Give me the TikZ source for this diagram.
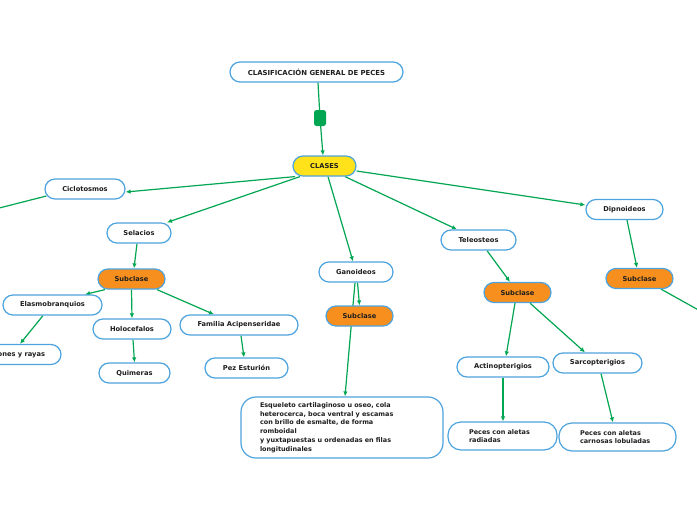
\documentclass[tikz,border=0pt]{standalone}
\usepackage{fontspec}
\setmainfont{DejaVu Sans}
\usetikzlibrary{arrows.meta,backgrounds}
\definecolor{verde}{RGB}{0,166,81}
\definecolor{azul}{RGB}{77,163,222}
\definecolor{naranja}{RGB}{247,143,30}
\definecolor{amarillo}{RGB}{255,226,26}
\definecolor{texto}{RGB}{30,30,30}
\begin{document}
\begin{tikzpicture}[x=1pt,y=-1pt,
	caja/.style={draw=azul,line width=1.2pt,fill=white,rounded corners=10pt,minimum height=20pt,
		inner sep=0pt,text=texto,font=\bfseries\fontsize{6.7}{8}\selectfont},
	subcl/.style={caja,fill=naranja},
	hoja/.style={caja,minimum height=28pt,rounded corners=13pt,align=left,inner xsep=21pt,
		font=\bfseries\fontsize{6.5}{8}\selectfont},
	linea/.style={draw=verde,line width=1.2pt},
	flecha/.style={linea,-{Latex[length=5pt,width=4.5pt]}}]
	\useasboundingbox (0,0) rectangle (697,520);
	\clip (0,0) rectangle (697,520);
	%Nodos del mapa
	\node[caja,minimum width=173pt,font=\bfseries\fontsize{6.9}{8}\selectfont] (tit) at (316.5,72) {CLASIFICACIÓN GENERAL DE PECES};
	\node[fill=verde,rounded corners=2.5pt,minimum width=12pt,minimum height=16pt,inner sep=0pt] (cuad) at (320,118) {};
	\node[caja,fill=amarillo,minimum width=63pt] (cla) at (324.5,166) {CLASES};
	\node[caja,minimum width=80pt] (cic) at (85,189) {Ciclotosmos};
	\node[caja,minimum width=64pt] (sel) at (139,233) {Selacios};
	\node[subcl,minimum width=67pt] (subs) at (131.5,279) {Subclase};
	\node[caja,minimum width=99pt] (ela) at (52.5,305) {Elasmobranquios};
	\node[caja,minimum width=78pt] (hol) at (132,329) {Holocefalos};
	\node[caja,minimum width=118pt] (fam) at (239,325) {Familia Acipenseridae};
	\node[caja,minimum width=99pt] (tib) at (11.5,354.5) {Tiburones y rayas};
	\node[caja,minimum width=71pt] (qui) at (134.5,373) {Quimeras};
	\node[caja,minimum width=83pt] (pez) at (246.5,368) {Pez Esturión};
	\node[caja,minimum width=74pt] (gan) at (356,272) {Ganoideos};
	\node[subcl,minimum width=67pt] (subg) at (359.5,316) {Subclase};
	\node[hoja,minimum height=61pt,rounded corners=15pt,inner xsep=19pt,text width=164pt,
		font=\bfseries\fontsize{6.45}{8.7}\selectfont] (desc) at (342,427.5)
		{Esqueleto cartilaginoso u oseo, cola\\heterocerca, boca ventral y escamas\\con brillo de esmalte, de forma\\romboidal\\y yuxtapuestas u ordenadas en filas\\longitudinales};
	\node[caja,minimum width=75pt] (tel) at (478.5,240) {Teleosteos};
	\node[subcl,minimum width=67pt] (subt) at (517.5,292.5) {Subclase};
	\node[caja,minimum width=92pt] (act) at (503,367) {Actinopterigios};
	\node[caja,minimum width=89pt] (sar) at (597.5,363) {Sarcopterigios};
	\node[hoja,text width=67pt] (rad) at (502.5,436) {Peces con aletas\\radiadas};
	\node[hoja,text width=75pt] (car) at (617.5,437) {Peces con aletas\\carnosas lobuladas};
	\node[caja,minimum width=77pt] (dip) at (624.5,209.5) {Dipnoideos};
	\node[subcl,minimum width=67pt] (subd) at (639.5,278.5) {Subclase};
	\coordinate (fueraIzq) at (-40,218);
	\coordinate (fueraDer) at (720,322);
	%Conexiones
	\begin{scope}[on background layer]
		\clip (0,0) rectangle (697,520);
		\fill[white] (0,0) rectangle (697,520);
		\draw[linea] ([xshift=1.5pt]tit.south) -- (cuad);
		\draw[flecha] (cuad) -- ([xshift=-1.5pt]cla.north);
		\draw[flecha] ([xshift=-29.5pt]cla.south) -- ([yshift=-3pt]cic.east);
		\draw[linea] ([xshift=2pt,yshift=-7pt]cic.west) -- (fueraIzq);
		\draw[flecha] ([xshift=-24.5pt]cla.south) -- ([xshift=28pt]sel.north);
		\draw[flecha] ([xshift=-2pt]sel.south) -- ([xshift=2.5pt]subs.north);
		\draw[flecha] ([xshift=-26.5pt]subs.south) -- ([xshift=32.5pt]ela.north);
		\draw[flecha] (subs.south) -- (hol.north);
		\draw[flecha] ([xshift=25.5pt]subs.south) -- ([xshift=-25pt]fam.north);
		\draw[flecha] ([xshift=-9.5pt]ela.south) -- ([xshift=8.5pt]tib.north);
		\draw[flecha] ([xshift=1pt]hol.south) -- (qui.north);
		\draw[flecha] ([xshift=2pt]fam.south) -- ([xshift=-2.5pt]pez.north);
		\draw[flecha] ([xshift=3.5pt]cla.south) -- ([xshift=-3pt]gan.north);
		\draw[flecha] ([xshift=1.5pt]gan.south) -- (subg.north);
		\draw[flecha] ([xshift=-1pt]gan.south) -- ([xshift=3pt]desc.north);
		\draw[flecha] ([xshift=20.5pt]cla.south) -- ([xshift=-21.5pt]tel.north);
		\draw[flecha] ([xshift=8.5pt]tel.south) -- ([xshift=-7.5pt]subt.north);
		\draw[flecha] ([xshift=-2.5pt]subt.south) -- ([xshift=3pt]act.north);
		\draw[flecha] ([xshift=12.5pt]subt.south) -- ([xshift=-12.5pt]sar.north);
		\draw[flecha] (act.south) -- ([xshift=0.5pt]rad.north);
		\draw[flecha] ([xshift=3.5pt]sar.south) -- ([xshift=-4.5pt]car.north);
		\draw[flecha] ([yshift=-5pt]cla.east) -- ([yshift=4.5pt]dip.west);
		\draw[flecha] ([xshift=2.5pt]dip.south) -- ([xshift=-2.5pt]subd.north);
		\draw[linea] ([xshift=21.5pt]subd.south) -- (fueraDer);
	\end{scope}
\end{tikzpicture}
\end{document}
